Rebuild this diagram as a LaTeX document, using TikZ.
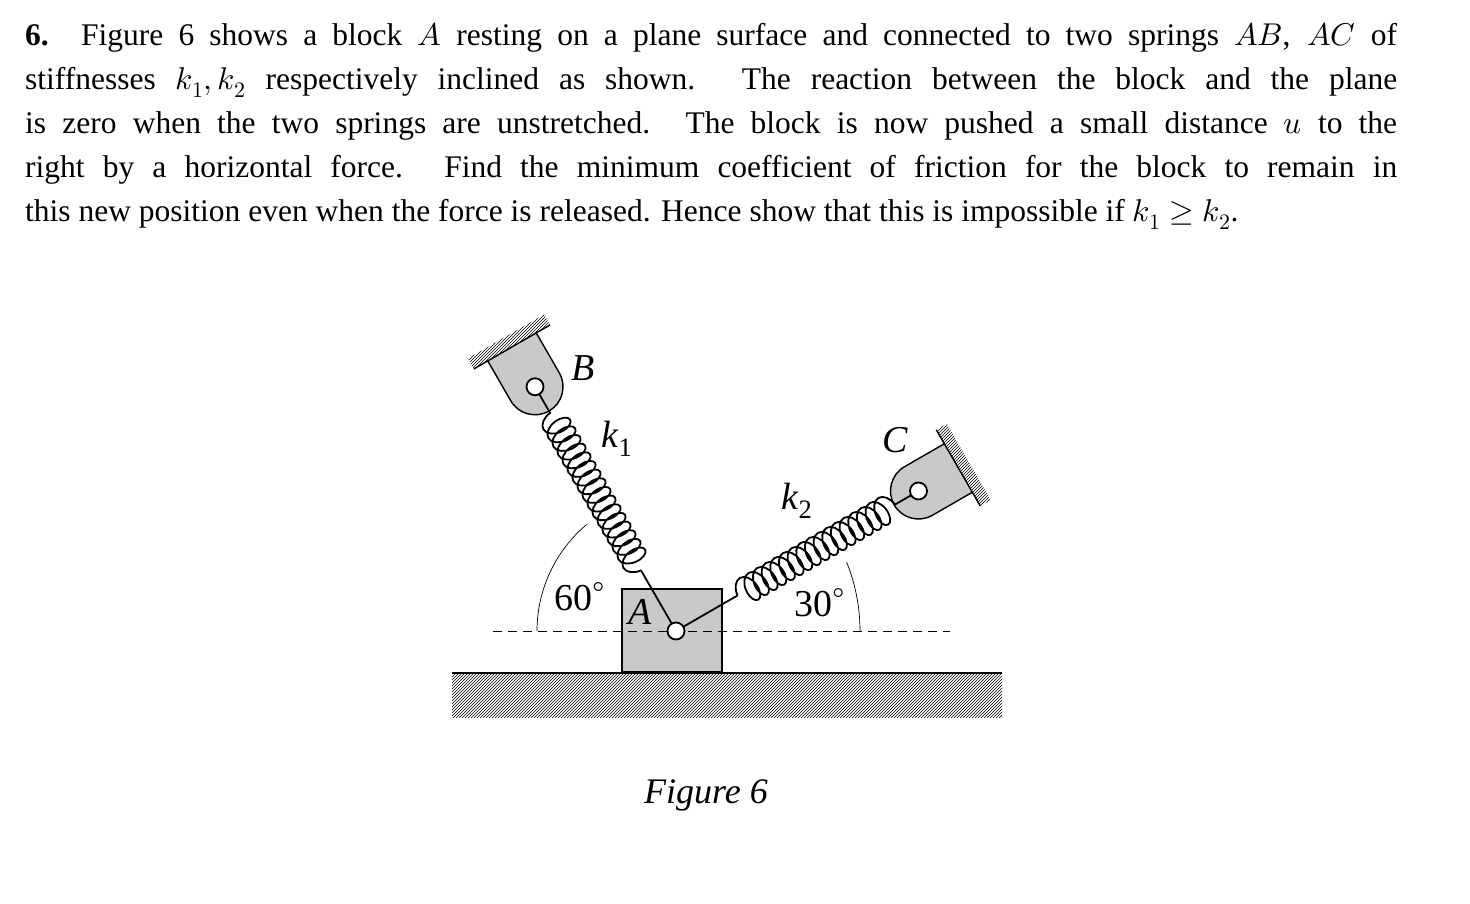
\documentclass[tikz,border=0pt]{standalone}
\usepackage{fontspec}
\usepackage{unicode-math}
\setmainfont{Liberation Serif}
\setmathfont{Latin Modern Math}
\usetikzlibrary{calc,patterns,decorations.pathmorphing}
\definecolor{blockgray}{RGB}{200,201,203}
\newcommand{\degsign}{\raisebox{0.42em}{\fontsize{30}{30}\selectfont$\circ$}}
\begin{document}
\begin{tikzpicture}[x=1pt,y=1pt]

      \tikzset{pin/.style={draw, circle, line width=1.8pt, fill=white, inner sep=0pt, minimum size=17pt},
               spring/.style={line width=1.8pt, decorate, decoration={coil, aspect=0.6, segment length=10pt, amplitude=14pt}},
               link/.style={line width=1.8pt},
               lbl/.style={font=\fontsize{38}{38}\selectfont\itshape}}
      \useasboundingbox (0,0) rectangle (1470,904);
%% Problem text
      \node[anchor=north west, inner sep=0pt, text width=1372pt, align=justify,
            font=\fontsize{31.5}{44}\selectfont] (txt) at (25,881)
      {\textbf{6.} Figure 6 shows a block $A$ resting on a plane surface and connected to two springs $AB$, $AC$ of\linebreak stiffnesses $k_1, k_2$ respectively inclined as shown. The reaction between the block and the plane\linebreak is zero when the two springs are unstretched. The block is now pushed a small distance $u$ to the\linebreak right by a horizontal force. Find the minimum coefficient of friction for the block to remain in\linebreak this new position even when the force is released. Hence show that this is impossible if $k_1 \geq k_2$.};
%% Ground and block
      \fill[pattern=north east lines] (452,186) rectangle (1002,231);
      \draw[line width=1.8pt] (452,231) -- (1002,231);
      \draw[line width=1.4pt, fill=blockgray] (622,232) rectangle (722,315);
      \draw[dashed, line width=0.8pt, dash pattern=on 9pt off 6pt] (493,273) -- (950,273);
      \coordinate (A) at (676,273);
      \coordinate (B) at ($(A)+(120:282)$);
      \coordinate (C) at ($(A)+(30:280)$);
%% Angle arcs
      \draw[line width=0.7pt] ($(A)+(180:139)$) arc (180:130:139);
      \draw[line width=0.7pt] ($(A)+(0:184)$) arc (0:22:184);
%% Supports
      \foreach \p/\ang in {B/120, C/30}{
        \begin{scope}[shift={(\p)}, rotate=\ang]
          \fill[pattern=north east lines] (46,-44) rectangle (58,44);
          \draw[line width=1.4pt, fill=blockgray] (46,-28) -- (0,-28) arc (270:90:28) -- (46,28);
          \draw[line width=1.4pt] (46,-44) -- (46,44);
        \end{scope}
      }
%% Springs
      \coordinate (b1) at ($(A)+(120:70)$);
      \coordinate (b2) at ($(A)+(120:258)$);
      \coordinate (c1) at ($(A)+(30:71)$);
      \coordinate (c2) at ($(A)+(30:255)$);
      \draw[link] (A) -- (b1);
      \draw[spring] (b1) -- (b2);
      \draw[link] (b2) -- (B);
      \draw[link] (A) -- (c1);
      \draw[spring] (c1) -- (c2);
      \draw[link] (c2) -- (C);
      \node[pin] (pA) at (A) {};
      \node[pin] (pB) at (B) {};
      \node[pin] (pC) at (C) {};
%% Labels
      \node[lbl] (lB) at (583,536) {B};
      \node[lbl] (lC) at (895,464) {C};
      \node[lbl] (lA) at (640,292) {A};
      \node[lbl] (lk1) at (617,465) {k\textsubscript{\upshape 1}};
      \node[lbl] (lk2) at (797,403) {k\textsubscript{\upshape 2}};
      \node[font=\fontsize{38}{38}\selectfont] (l60) at (580,307) {60\degsign};
      \node[font=\fontsize{38}{38}\selectfont] (l30) at (820,301) {30\degsign};
      \node[font=\fontsize{36}{36}\selectfont\itshape] (cap) at (706,109) {Figure 6};

	\end{tikzpicture}
\end{document}
